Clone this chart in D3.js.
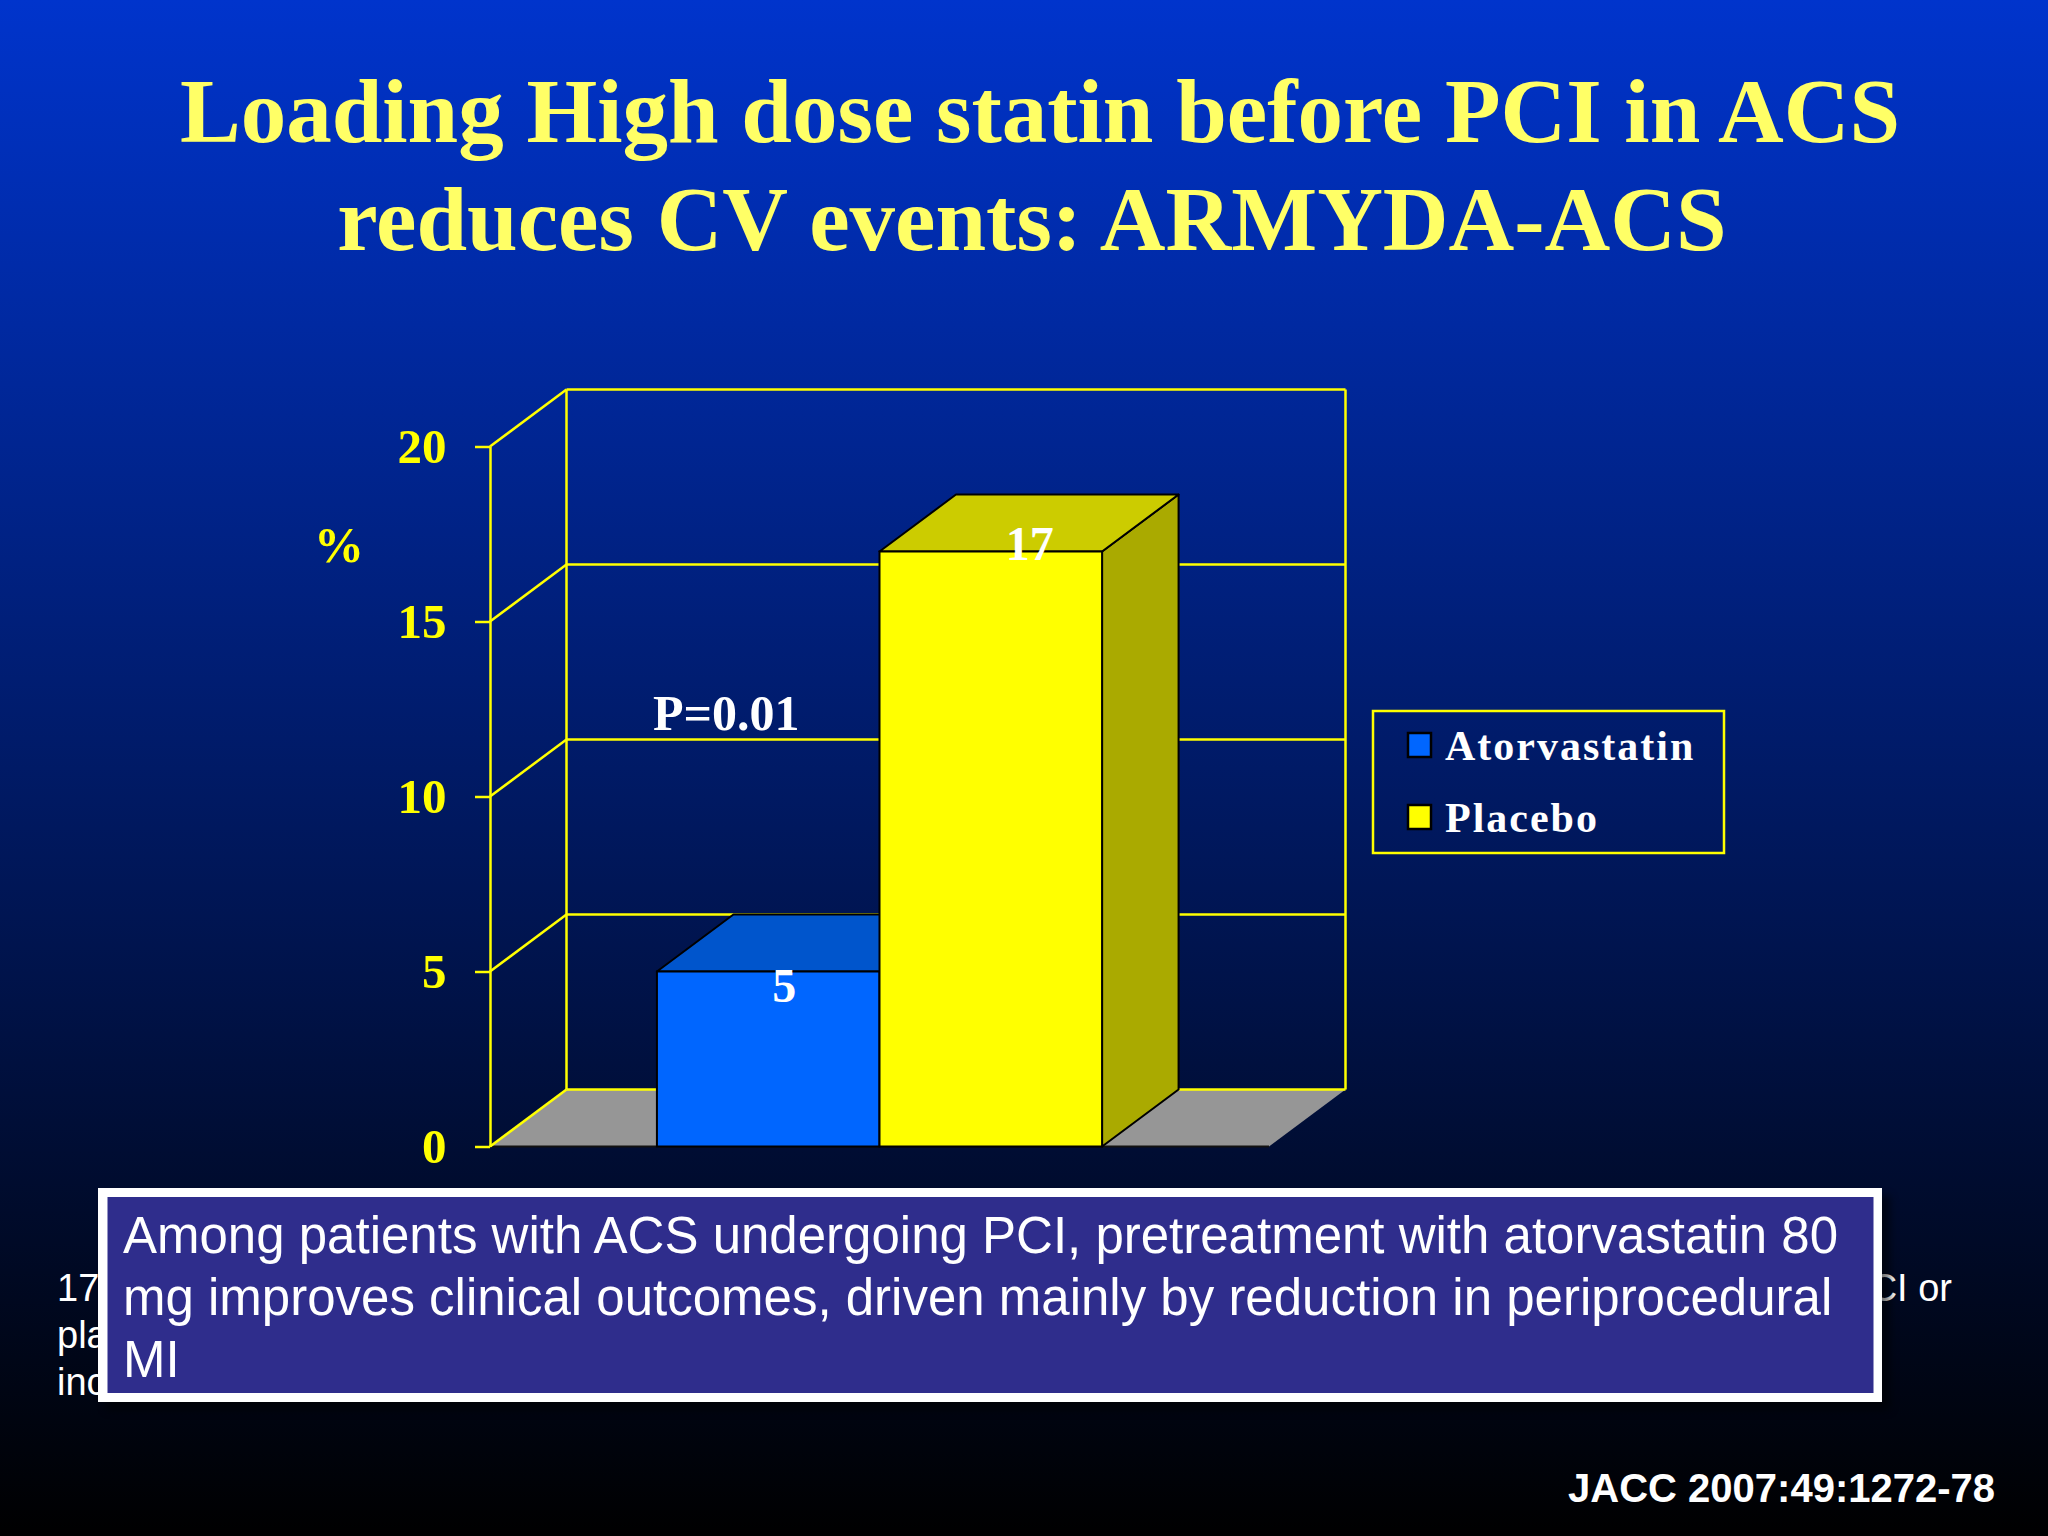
<!DOCTYPE html>
<html>
<head>
<meta charset="utf-8">
<script src="https://cdn.jsdelivr.net/npm/d3@7"></script>
<style>
html, body { margin: 0; padding: 0; background: #000; }
svg { display: block; }
</style>
</head>
<body>
<script>
// ---------- data ----------
const seriesNames = ["Atorvastatin", "Placebo"];
const seriesValues = [5, 17];
const valueLabels = ["5", "17"];
const seriesColors = ["#0066ff", "#ffff00"];
const seriesTopColors = ["#0055cc", "#cccc00"];
const seriesSideColors = ["#0044aa", "#aaaa00"];
const yTickValues = [0, 5, 10, 15, 20];
const yDomain = [0, 20];
const titleLines = ["Loading High dose statin before PCI in ACS", "reduces CV events: ARMYDA-ACS"];
const axisUnit = "%";
const pValueText = "P=0.01";
const calloutLines = [
  "Among patients with ACS undergoing PCI, pretreatment with atorvastatin 80",
  "mg improves clinical outcomes, driven mainly by reduction in periprocedural",
  "MI"
];
const hiddenLeftFragments = ["17", "pla", "inc"];
const hiddenRightFragment = "PCI or";
const sourceText = "JACC 2007:49:1272-78";

// ---------- layout ----------
const W = 2048, H = 1536;
const serif = "'Times New Roman', 'Liberation Serif', serif";
const sans = "Arial, 'Liberation Sans', Helvetica, sans-serif";
const gridYellow = "#ffff00";

const plot = { left: 490, right: 1269, top: 446.5, bottom: 1146.5 };
const depth = { dx: 76.5, dy: -57 };

const svg = d3.select("body").append("svg")
  .attr("width", W).attr("height", H)
  .attr("viewBox", `0 0 ${W} ${H}`);

const defs = svg.append("defs");
const bg = defs.append("linearGradient").attr("id", "bg")
  .attr("x1", 0).attr("y1", 0).attr("x2", 0).attr("y2", 1);
bg.append("stop").attr("offset", "0%").attr("stop-color", "#0034cc");
bg.append("stop").attr("offset", "100%").attr("stop-color", "#000000");
const blur = defs.append("filter").attr("id", "shadow")
  .attr("x", "-5%").attr("y", "-5%").attr("width", "110%").attr("height", "110%");
blur.append("feGaussianBlur").attr("stdDeviation", 4);

svg.append("rect").attr("width", W).attr("height", H).attr("fill", "url(#bg)");

// ---------- title ----------
const titleX = [1040, 1032];
const titleY = [142, 250];
svg.append("g").selectAll("text").data(titleLines).join("text")
  .attr("x", (d, i) => titleX[i])
  .attr("y", (d, i) => titleY[i])
  .attr("text-anchor", "middle")
  .attr("font-family", serif)
  .attr("font-weight", "bold")
  .attr("font-size", 91)
  .attr("fill", "#ffff66")
  .text(d => d);

// ---------- scales ----------
const y = d3.scaleLinear().domain(yDomain).range([plot.bottom, plot.top]);
const x = d3.scaleBand().domain(seriesNames)
  .range([plot.left, plot.right]).paddingInner(0).paddingOuter(0.75);

const chart = svg.append("g");

// floor
const floorPts = [
  [plot.left, y(0)], [plot.right, y(0)],
  [plot.right + depth.dx, y(0) + depth.dy], [plot.left + depth.dx, y(0) + depth.dy]
];
chart.append("polygon")
  .attr("points", floorPts.map(p => p.join(",")).join(" "))
  .attr("fill", "#969696");
chart.append("line")
  .attr("x1", plot.left).attr("x2", plot.right)
  .attr("y1", y(0)).attr("y2", y(0))
  .attr("stroke", "#111").attr("stroke-width", 2);

// back wall gridlines
const backLeft = plot.left + depth.dx, backRight = plot.right + depth.dx;
chart.append("g").selectAll("line").data(yTickValues).join("line")
  .attr("x1", backLeft).attr("x2", backRight)
  .attr("y1", d => y(d) + depth.dy).attr("y2", d => y(d) + depth.dy)
  .attr("stroke", gridYellow).attr("stroke-width", 2.5);
chart.append("g").selectAll("line").data([backLeft, backRight]).join("line")
  .attr("x1", d => d).attr("x2", d => d)
  .attr("y1", y(yDomain[1]) + depth.dy).attr("y2", y(0) + depth.dy)
  .attr("stroke", gridYellow).attr("stroke-width", 2.5);

// side wall lines
chart.append("g").selectAll("line").data(yTickValues).join("line")
  .attr("x1", plot.left).attr("y1", d => y(d))
  .attr("x2", plot.left + depth.dx).attr("y2", d => y(d) + depth.dy)
  .attr("stroke", gridYellow).attr("stroke-width", 2.5);

// axis
const axis = d3.axisLeft(y).tickValues(yTickValues).tickSize(15).tickSizeOuter(0).tickPadding(28.5);
const axisG = chart.append("g").attr("transform", `translate(${plot.left},0)`).call(axis);
axisG.select(".domain").attr("stroke", gridYellow).attr("stroke-width", 2.5);
axisG.selectAll(".tick line").attr("stroke", gridYellow).attr("stroke-width", 2.5);
axisG.selectAll(".tick text")
  .attr("font-family", serif).attr("font-weight", "bold")
  .attr("font-size", 49).attr("fill", gridYellow);

// unit label
chart.append("text")
  .attr("x", 339).attr("y", 562)
  .attr("text-anchor", "middle")
  .attr("font-family", serif).attr("font-weight", "bold")
  .attr("font-size", 50).attr("fill", gridYellow)
  .text(axisUnit);

// bars
const bw = x.bandwidth();
const bars = chart.append("g").selectAll("g").data(seriesNames).join("g");
bars.each(function(name, i) {
  const g = d3.select(this);
  const xl = x(name), xr = xl + bw;
  const yt = y(seriesValues[i]), yb = y(0);
  const top = [[xl, yt], [xr, yt], [xr + depth.dx, yt + depth.dy], [xl + depth.dx, yt + depth.dy]];
  const side = [[xr, yt], [xr + depth.dx, yt + depth.dy], [xr + depth.dx, yb + depth.dy], [xr, yb]];
  g.append("polygon").attr("points", side.map(p => p.join(",")).join(" "))
    .attr("fill", seriesSideColors[i]).attr("stroke", "#000").attr("stroke-width", 2).attr("stroke-linejoin", "round");
  g.append("polygon").attr("points", top.map(p => p.join(",")).join(" "))
    .attr("fill", seriesTopColors[i]).attr("stroke", "#000").attr("stroke-width", 2).attr("stroke-linejoin", "round");
  g.append("rect").attr("x", xl).attr("y", yt).attr("width", bw).attr("height", yb - yt)
    .attr("fill", seriesColors[i]).attr("stroke", "#000").attr("stroke-width", 2);
});

// value labels
const labelShift = [[16, 30], [39, 8]];
chart.append("g").selectAll("text").data(seriesNames).join("text")
  .attr("x", (d, i) => x(d) + bw / 2 + labelShift[i][0])
  .attr("y", (d, i) => y(seriesValues[i]) + labelShift[i][1])
  .attr("text-anchor", "middle")
  .attr("font-family", serif).attr("font-weight", "bold")
  .attr("font-size", 48).attr("fill", "#ffffff")
  .text((d, i) => valueLabels[i]);

// p value
chart.append("text")
  .attr("x", 653).attr("y", 730)
  .attr("font-family", serif).attr("font-weight", "bold")
  .attr("font-size", 50).attr("fill", "#ffffff")
  .text(pValueText);

// legend
const legend = svg.append("g");
legend.append("rect")
  .attr("x", 1373).attr("y", 711).attr("width", 351).attr("height", 142)
  .attr("fill", "none").attr("stroke", gridYellow).attr("stroke-width", 2.5);
const items = legend.selectAll("g").data(seriesNames).join("g")
  .attr("transform", (d, i) => `translate(1408, ${733 + i * 72})`);
items.append("rect").attr("width", 23).attr("height", 24)
  .attr("fill", (d, i) => seriesColors[i]).attr("stroke", "#000").attr("stroke-width", 2.5);
items.append("text").attr("x", 37).attr("y", 27)
  .attr("font-family", serif).attr("font-weight", "bold")
  .attr("font-size", 42).attr("letter-spacing", 2).attr("fill", "#ffffff")
  .text(d => d);

// hidden paragraph fragments (behind callout)
const hidden = svg.append("g")
  .attr("font-family", sans).attr("font-size", 38).attr("fill", "#ffffff");
hidden.selectAll("text.l").data(hiddenLeftFragments).join("text").attr("class", "l")
  .attr("x", 57).attr("y", (d, i) => 1301 + i * 47)
  .text(d => d);
hidden.append("text").attr("x", 1952).attr("y", 1301).attr("text-anchor", "end")
  .text(hiddenRightFragment);

// callout box
const box = svg.append("g");
box.append("rect").attr("x", 106).attr("y", 1196).attr("width", 1784).attr("height", 214)
  .attr("fill", "#000").attr("opacity", 0.55).attr("filter", "url(#shadow)");
box.append("rect").attr("x", 98).attr("y", 1188).attr("width", 1784).attr("height", 214)
  .attr("fill", "#ffffff");
box.append("rect").attr("x", 107.5).attr("y", 1197).attr("width", 1766).attr("height", 196)
  .attr("fill", "#2f2d8c");
box.selectAll("text").data(calloutLines).join("text")
  .attr("x", 123).attr("y", (d, i) => 1253 + i * 62)
  .attr("font-family", sans).attr("font-size", 51).attr("fill", "#ffffff")
  .text(d => d);

// source
svg.append("text")
  .attr("x", 1995).attr("y", 1502).attr("text-anchor", "end")
  .attr("font-family", sans).attr("font-weight", "bold")
  .attr("font-size", 40).attr("fill", "#ffffff")
  .text(sourceText);
</script>
</body>
</html>
